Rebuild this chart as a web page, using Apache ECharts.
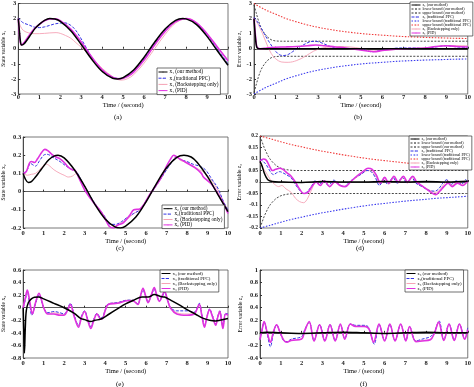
<!DOCTYPE html>
<html><head><meta charset="utf-8">
<script src="https://cdn.jsdelivr.net/npm/echarts@6/dist/echarts.min.js"></script>
<style>html,body{margin:0;padding:0;background:#fff}#c{width:474px;height:387px}</style>
</head><body><div id="c"></div>
<script>
// ---------- Panel (a): state x1 ----------
const a_our=[[0,2],[0.05,1.2],[0.1,0.5],[0.15,0.25],[0.25,0.3],[0.4,0.55],[0.6,0.95],[0.8,1.35],[1,1.62],[1.25,1.88],[1.5,2.0],[1.75,1.97],[2,1.82],[2.5,1.2],[3,0.28],[3.5,-0.7],[4,-1.51],[4.5,-1.96],[4.75,-2.0],[5,-1.92],[5.5,-1.41],[6,-0.56],[6.5,0.43],[7,1.31],[7.5,1.88],[7.85,2.0],[8,1.98],[8.5,1.6],[9,0.82],[9.5,-0.15],[10,-1.09]];
const a_ppc=[[0,2.05],[0.2,1.75],[0.5,1.58],[0.8,1.42],[1,1.4],[1.25,1.45],[1.5,1.55],[1.75,1.65],[2,1.7],[2.2,1.72],[2.5,1.55],[2.75,1.2],[3,0.65],[3.25,0.05],[3.5,-0.55],[4,-1.42],[4.5,-1.88],[4.8,-1.97],[5,-1.95],[5.5,-1.5],[6,-0.65],[6.5,0.35],[7,1.25],[7.5,1.85],[7.9,2.0],[8.5,1.65],[9,0.9],[9.5,-0.05],[10,-1.0]];
const a_bs=[[0,2],[0.1,1.5],[0.25,1.2],[0.5,1.05],[0.75,1.0],[1,1.0],[1.5,1.05],[1.8,1.07],[2,1.02],[2.25,0.88],[2.5,0.7],[2.75,0.4],[3,0.1],[3.5,-0.6],[4,-1.3],[4.5,-1.85],[4.9,-2.08],[5.2,-1.99],[5.5,-1.72],[6,-0.95],[6.5,0.0],[7,0.95],[7.5,1.7],[8,2.0],[8.3,1.92],[8.6,1.58],[9,0.97],[9.5,0.1],[10,-0.75]];
const a_pid=[[0,2],[0.05,1.0],[0.1,0.4],[0.15,0.25],[0.3,0.45],[0.5,0.85],[0.75,1.3],[1,1.62],[1.25,1.86],[1.5,1.98],[1.75,1.98],[2,1.86],[2.5,1.3],[3,0.45],[3.5,-0.55],[4,-1.4],[4.5,-1.9],[4.85,-2.0],[5.2,-1.85],[5.5,-1.55],[6,-0.75],[6.5,0.25],[7,1.15],[7.5,1.8],[8,2.0],[8.5,1.72],[9,1.0],[9.5,0.1],[10,-0.8]];

// ---------- Panel (b): error z1 ----------
const b_our=[[0,2],[0.05,1.0],[0.1,0.3],[0.15,0.05],[0.3,0.0],[1,0.0],[10,0.0]];
const b_upOur=[[0,2.9],[0.1,2.4],[0.2,1.9],[0.3,1.5],[0.4,1.2],[0.5,1.0],[0.6,0.82],[0.7,0.7],[0.8,0.6],[0.9,0.55],[1,0.52],[1.3,0.5],[10,0.5]];
const b_loOur=[[0,-2.9],[0.1,-2.4],[0.2,-1.9],[0.3,-1.5],[0.4,-1.2],[0.5,-1.0],[0.6,-0.82],[0.7,-0.7],[0.8,-0.6],[0.9,-0.55],[1,-0.52],[1.3,-0.5],[10,-0.5]];
const b_ppc=[[0,2.1],[0.2,1.7],[0.4,1.2],[0.6,0.7],[0.8,0.25],[1.0,-0.15],[1.2,-0.4],[1.4,-0.45],[1.6,-0.38],[1.8,-0.2],[2.0,0.0],[2.3,0.25],[2.6,0.45],[2.85,0.5],[3.1,0.42],[3.4,0.25],[3.7,0.08],[4.0,0.0],[4.5,0.02],[5.0,0.0],[5.5,-0.2],[5.8,-0.15],[6.2,-0.05],[6.8,0.05],[7.5,0.05],[8,0.0],[8.5,0.12],[9,0.2],[9.5,0.12],[10,0.1]];
const b_loTrad=[[0,-3],[0.5,-2.6],[1,-2.3],[1.5,-2.0],[2,-1.78],[2.5,-1.58],[3,-1.42],[3.5,-1.29],[4,-1.18],[4.5,-1.09],[5,-1.01],[5.5,-0.95],[6,-0.9],[6.5,-0.85],[7,-0.81],[7.5,-0.78],[8,-0.75],[8.5,-0.73],[9,-0.71],[9.5,-0.69],[10,-0.68]];
const b_upTrad=[[0,3],[0.5,2.6],[1,2.3],[1.5,2.0],[2,1.78],[2.5,1.58],[3,1.42],[3.5,1.29],[4,1.18],[4.5,1.09],[5,1.01],[5.5,0.95],[6,0.9],[6.5,0.85],[7,0.81],[7.5,0.78],[8,0.75],[8.5,0.73],[9,0.71],[9.5,0.69],[10,0.68]];
const b_bs=[[0,2.0],[0.2,1.6],[0.4,1.0],[0.6,0.3],[0.8,-0.3],[1.0,-0.65],[1.3,-0.88],[1.6,-0.9],[2.0,-0.78],[2.4,-0.5],[2.8,-0.15],[3.2,0.05],[3.6,0.12],[4.0,0.15],[4.5,0.12],[5.0,0.02],[5.5,-0.15],[6.0,-0.12],[7.0,0.0],[8.0,0.05],[9.0,0.2],[10,0.2]];
const b_pid=[[0,2],[0.05,1.2],[0.1,0.4],[0.15,0.1],[0.3,0.0],[0.6,0.05],[1,0.1],[1.5,0.12],[2,0.15],[2.5,0.2],[2.9,0.25],[3.3,0.2],[3.8,0.12],[4.3,0.05],[4.8,-0.05],[5.3,-0.15],[5.6,-0.2],[6,-0.12],[6.5,-0.05],[7,0.0],[7.5,0.02],[8,0.05],[8.5,0.15],[9,0.2],[9.5,0.15],[10,0.12]];

// ---------- Panel (c): state x2 ----------
const c_our=[[0,0.1],[0.1,0.07],[0.25,0.05],[0.4,0.055],[0.6,0.08],[0.8,0.11],[1,0.14],[1.25,0.175],[1.5,0.195],[1.7,0.2],[2,0.185],[2.5,0.12],[3,0.03],[3.5,-0.07],[4,-0.15],[4.5,-0.195],[4.75,-0.2],[5,-0.19],[5.5,-0.14],[6,-0.056],[6.5,0.043],[7,0.131],[7.5,0.188],[7.85,0.2],[8.2,0.19],[8.5,0.16],[9,0.082],[9.5,-0.015],[10,-0.11]];
const c_ppc=[[0,0.1],[0.2,0.12],[0.35,0.155],[0.5,0.145],[0.6,0.14],[0.8,0.17],[1.0,0.2],[1.15,0.205],[1.3,0.2],[1.5,0.185],[1.8,0.165],[2.1,0.14],[2.4,0.12],[2.6,0.11],[2.8,0.07],[3,0.03],[3.3,-0.03],[3.6,-0.08],[4,-0.14],[4.25,-0.18],[4.5,-0.18],[4.8,-0.165],[5.1,-0.14],[5.4,-0.12],[5.7,-0.1],[6,-0.05],[6.3,0.0],[6.6,0.05],[7,0.12],[7.3,0.17],[7.45,0.19],[7.7,0.175],[8.0,0.165],[8.3,0.15],[8.6,0.14],[8.9,0.12],[9.2,0.07],[9.5,0.02],[9.8,-0.06],[10,-0.1]];
const c_bs=[[0,0.1],[0.2,0.09],[0.4,0.095],[0.6,0.1],[0.8,0.12],[1.0,0.145],[1.15,0.15],[1.3,0.14],[1.5,0.12],[1.8,0.1],[2.0,0.09],[2.2,0.08],[2.4,0.085],[2.6,0.1],[2.8,0.07],[3,0.03],[3.3,-0.03],[3.6,-0.08],[4,-0.14],[4.3,-0.185],[4.5,-0.19],[4.8,-0.17],[5.1,-0.15],[5.4,-0.12],[5.7,-0.1],[6,-0.05],[6.3,0.0],[6.6,0.05],[7,0.12],[7.3,0.17],[7.45,0.19],[7.7,0.17],[8.0,0.16],[8.3,0.14],[8.6,0.12],[8.9,0.1],[9.2,0.06],[9.5,0.01],[9.8,-0.06],[10,-0.1]];
const c_pid=[[0,0.1],[0.15,0.11],[0.3,0.155],[0.4,0.165],[0.55,0.16],[0.7,0.18],[0.9,0.215],[1.05,0.232],[1.2,0.225],[1.4,0.205],[1.6,0.19],[1.8,0.18],[2.0,0.16],[2.2,0.135],[2.4,0.12],[2.55,0.115],[2.7,0.08],[3,0.01],[3.3,-0.04],[3.5,-0.07],[3.8,-0.11],[4.0,-0.15],[4.2,-0.19],[4.4,-0.2],[4.6,-0.185],[4.9,-0.17],[5.2,-0.13],[5.4,-0.1],[5.7,-0.095],[5.9,-0.07],[6.1,-0.03],[6.4,0.02],[6.7,0.07],[7.0,0.14],[7.2,0.18],[7.35,0.2],[7.5,0.19],[7.8,0.17],[8.1,0.15],[8.4,0.13],[8.7,0.1],[8.8,0.08],[9.0,0.06],[9.2,0.04],[9.5,-0.01],[9.8,-0.07],[10,-0.12]];

// ---------- Panel (d): error z2 ----------
const d_our=[[0,0.09],[0.1,0.07],[0.2,0.04],[0.3,0.02],[0.4,0.008],[0.6,0.002],[1,0],[2,-0.002],[3,0.002],[4,0],[5,0],[6,0.002],[7,0],[8,0.002],[9,0],[10,0.003]];
const d_upOur=[[0,0.2],[0.1,0.175],[0.2,0.15],[0.3,0.13],[0.4,0.112],[0.5,0.098],[0.6,0.087],[0.7,0.078],[0.8,0.07],[0.9,0.065],[1.0,0.06],[1.2,0.055],[1.4,0.052],[1.7,0.05],[10,0.05]];
const d_loOur=[[0,-0.2],[0.1,-0.175],[0.2,-0.15],[0.3,-0.13],[0.4,-0.112],[0.5,-0.098],[0.6,-0.087],[0.7,-0.078],[0.8,-0.07],[0.9,-0.065],[1.0,-0.06],[1.2,-0.055],[1.4,-0.052],[1.7,-0.05],[10,-0.05]];
const d_ppc=[[0,0.1],[0.15,0.09],[0.3,0.075],[0.5,0.045],[0.65,0.032],[0.8,0.04],[0.95,0.045],[1.1,0.04],[1.3,0.03],[1.5,0.018],[1.7,-0.01],[1.9,-0.035],[2.1,-0.05],[2.3,-0.04],[2.5,-0.015],[2.65,0.005],[2.85,-0.01],[3.05,0.005],[3.3,-0.015],[3.55,0.008],[3.8,-0.01],[4.05,-0.02],[4.3,0.0],[4.6,0.02],[4.9,0.035],[5.15,0.05],[5.35,0.045],[5.55,0.02],[5.75,-0.015],[5.95,0.01],[6.15,-0.01],[6.4,0.02],[6.6,-0.005],[6.85,0.02],[7.05,-0.005],[7.3,0.02],[7.5,-0.005],[7.8,-0.02],[8.1,-0.035],[8.4,-0.04],[8.6,-0.03],[8.8,-0.005],[9.0,0.01],[9.2,-0.01],[9.45,0.005],[9.7,-0.01],[9.9,0.01],[10,0.0]];
const d_loTrad=[[0,-0.2],[0.5,-0.188],[1,-0.175],[1.5,-0.163],[2,-0.153],[2.5,-0.143],[3,-0.134],[3.5,-0.126],[4,-0.118],[4.5,-0.111],[5,-0.104],[5.5,-0.098],[6,-0.093],[6.5,-0.088],[7,-0.083],[7.5,-0.079],[8,-0.075],[8.5,-0.071],[9,-0.068],[9.5,-0.065],[10,-0.062]];
const d_upTrad=[[0,0.2],[0.5,0.188],[1,0.175],[1.5,0.163],[2,0.153],[2.5,0.143],[3,0.134],[3.5,0.126],[4,0.118],[4.5,0.111],[5,0.104],[5.5,0.098],[6,0.093],[6.5,0.088],[7,0.083],[7.5,0.079],[8,0.075],[8.5,0.071],[9,0.068],[9.5,0.065],[10,0.062]];
const d_bs=[[0,0.08],[0.15,0.06],[0.3,0.04],[0.5,0.01],[0.7,-0.01],[0.9,-0.02],[1.05,-0.015],[1.25,-0.03],[1.5,-0.045],[1.7,-0.07],[1.9,-0.085],[2.1,-0.09],[2.3,-0.07],[2.5,-0.03],[2.7,0.0],[2.9,-0.015],[3.1,0.005],[3.35,-0.02],[3.6,0.0],[3.85,-0.015],[4.1,-0.02],[4.35,0.0],[4.65,0.02],[4.95,0.04],[5.2,0.05],[5.4,0.045],[5.6,0.02],[5.8,-0.01],[6.0,0.015],[6.2,-0.01],[6.45,0.02],[6.65,-0.005],[6.9,0.02],[7.1,-0.005],[7.35,0.02],[7.55,-0.005],[7.85,-0.02],[8.15,-0.035],[8.45,-0.045],[8.65,-0.035],[8.85,-0.01],[9.05,0.005],[9.25,-0.015],[9.5,0.0],[9.75,-0.01],[10,0.0]];
const d_pid=[[0,0.09],[0.15,0.1],[0.3,0.095],[0.45,0.07],[0.6,0.05],[0.75,0.055],[0.95,0.06],[1.1,0.055],[1.3,0.04],[1.5,0.025],[1.7,0.0],[1.9,-0.03],[2.1,-0.05],[2.3,-0.045],[2.5,-0.02],[2.7,0.0],[2.9,-0.015],[3.1,0.005],[3.35,-0.02],[3.6,0.0],[3.85,-0.015],[4.1,-0.02],[4.35,0.0],[4.65,0.025],[4.95,0.045],[5.2,0.06],[5.4,0.055],[5.6,0.03],[5.8,-0.005],[6.0,0.02],[6.2,-0.005],[6.45,0.025],[6.65,0.0],[6.9,0.025],[7.1,0.0],[7.35,0.025],[7.55,0.0],[7.85,-0.02],[8.15,-0.04],[8.45,-0.055],[8.65,-0.04],[8.85,-0.02],[9.05,-0.005],[9.25,-0.02],[9.5,-0.005],[9.75,-0.015],[10,0.005]];

// ---------- Panel (e): state x3 ----------
const e_our=[[0,0],[0.03,-0.4],[0.06,-0.72],[0.1,-0.35],[0.15,-0.05],[0.25,0.08],[0.4,0.14],[0.55,0.165],[0.75,0.17],[1.0,0.14],[1.5,0.07],[2.0,0.0],[2.5,-0.09],[2.8,-0.17],[3.0,-0.19],[3.3,-0.22],[3.5,-0.2],[3.8,-0.18],[4.2,-0.1],[4.6,-0.02],[5.0,0.06],[5.4,0.12],[5.8,0.17],[6.1,0.17],[6.4,0.21],[6.7,0.18],[6.9,0.17],[7.2,0.12],[7.6,0.05],[8.0,-0.03],[8.4,-0.1],[8.8,-0.17],[9.1,-0.2],[9.4,-0.21],[9.6,-0.2],[10,-0.17]];
const e_ppc=[[0,0],[0.1,0.12],[0.2,0.25],[0.32,0.05],[0.42,-0.12],[0.6,0.06],[0.77,0.2],[0.9,0.1],[1.0,0.0],[1.2,-0.08],[1.5,-0.06],[1.8,-0.08],[2.0,-0.1],[2.15,-0.03],[2.3,0.07],[2.5,-0.13],[2.7,-0.28],[2.85,-0.13],[3.0,-0.05],[3.15,-0.18],[3.3,-0.3],[3.45,-0.18],[3.6,-0.09],[3.75,-0.15],[3.85,-0.16],[4.0,-0.04],[4.15,0.06],[4.6,0.08],[5.1,0.12],[5.35,0.12],[5.6,0.06],[5.72,0.17],[5.85,0.28],[5.97,0.19],[6.1,0.09],[6.25,0.19],[6.4,0.29],[6.52,0.2],[6.65,0.11],[6.78,0.17],[6.9,0.24],[7.05,0.12],[7.2,0.0],[7.5,-0.05],[8.0,-0.05],[8.35,-0.07],[8.6,0.07],[8.72,-0.1],[8.85,-0.29],[8.97,-0.14],[9.1,-0.02],[9.25,-0.13],[9.4,-0.26],[9.5,-0.14],[9.6,-0.05],[9.68,-0.18],[9.75,-0.3],[9.88,-0.09],[10,-0.1]];
const e_bs=[[0,0],[0.1,0.13],[0.2,0.26],[0.32,0.08],[0.45,-0.08],[0.6,0.07],[0.77,0.21],[0.9,0.11],[1.0,0.0],[1.2,-0.09],[1.5,-0.08],[1.8,-0.1],[2.0,-0.11],[2.15,-0.04],[2.3,0.06],[2.5,-0.14],[2.7,-0.29],[2.85,-0.14],[3.0,-0.05],[3.15,-0.19],[3.3,-0.31],[3.45,-0.19],[3.6,-0.09],[3.75,-0.16],[3.85,-0.17],[4.0,-0.04],[4.15,0.06],[4.6,0.08],[5.1,0.12],[5.35,0.12],[5.6,0.06],[5.72,0.18],[5.85,0.3],[5.97,0.2],[6.1,0.09],[6.25,0.2],[6.4,0.31],[6.52,0.2],[6.65,0.11],[6.78,0.18],[6.9,0.25],[7.05,0.12],[7.2,0.0],[7.5,-0.08],[8.0,-0.1],[8.35,-0.09],[8.6,0.06],[8.72,-0.11],[8.85,-0.3],[8.97,-0.14],[9.1,-0.03],[9.25,-0.14],[9.4,-0.27],[9.5,-0.14],[9.6,-0.05],[9.68,-0.19],[9.75,-0.31],[9.88,-0.1],[10,-0.11]];
const e_pid=[[0,0],[0.1,0.15],[0.2,0.28],[0.32,0.1],[0.45,-0.1],[0.6,0.08],[0.77,0.23],[0.9,0.12],[1.0,0.0],[1.2,-0.1],[1.5,-0.1],[1.8,-0.12],[2.0,-0.12],[2.15,-0.05],[2.3,0.05],[2.5,-0.15],[2.7,-0.31],[2.85,-0.15],[3.0,-0.06],[3.15,-0.2],[3.3,-0.33],[3.45,-0.2],[3.6,-0.1],[3.75,-0.17],[3.85,-0.18],[4.0,-0.05],[4.15,0.05],[4.6,0.07],[5.1,0.11],[5.35,0.11],[5.6,0.05],[5.72,0.18],[5.85,0.31],[5.97,0.2],[6.1,0.08],[6.25,0.2],[6.4,0.32],[6.52,0.2],[6.65,0.1],[6.78,0.18],[6.9,0.26],[7.05,0.12],[7.2,-0.01],[7.5,-0.1],[8.0,-0.12],[8.35,-0.1],[8.6,0.05],[8.72,-0.12],[8.85,-0.31],[8.97,-0.15],[9.1,-0.03],[9.25,-0.15],[9.4,-0.28],[9.5,-0.15],[9.6,-0.06],[9.68,-0.2],[9.75,-0.33],[9.88,-0.1],[10,-0.12]];

// ---------- Panel (f): error z3 ----------
const f_our=[[0,0],[0.3,0.01],[1,0],[2,-0.01],[3,0],[4,0.01],[5,0],[6,-0.01],[7,0],[8,0.01],[9,0],[10,0]];
const f_ppc=[[0,-0.11],[0.1,0.05],[0.2,0.17],[0.35,-0.02],[0.5,-0.22],[0.65,0.0],[0.8,0.13],[0.95,0.02],[1.15,-0.13],[1.3,-0.14],[1.5,-0.1],[2.0,-0.06],[2.15,0.05],[2.37,0.17],[2.6,-0.12],[2.87,0.13],[3.12,-0.12],[3.37,0.13],[3.62,-0.12],[3.87,0.13],[4.08,-0.09],[4.35,0.14],[4.6,0.12],[5.0,0.12],[5.2,0.1],[5.3,0.02],[5.5,-0.18],[5.73,0.13],[6.0,-0.12],[6.25,0.13],[6.5,-0.12],[6.77,0.13],[7.02,-0.12],[7.2,0.1],[7.5,-0.13],[7.8,-0.1],[8.2,-0.06],[8.4,0.02],[8.62,0.19],[8.85,-0.11],[9.1,0.14],[9.35,-0.11],[9.6,0.14],[9.85,-0.09],[10,0.08]];
const f_bs=[[0,-0.1],[0.1,0.05],[0.2,0.17],[0.35,0.0],[0.5,-0.14],[0.65,0.02],[0.8,0.13],[0.95,0.02],[1.15,-0.12],[1.3,-0.14],[1.5,-0.12],[2.0,-0.09],[2.15,0.03],[2.37,0.17],[2.6,-0.12],[2.87,0.13],[3.12,-0.12],[3.37,0.13],[3.62,-0.12],[3.87,0.13],[4.08,-0.09],[4.35,0.14],[4.6,0.11],[5.0,0.11],[5.2,0.09],[5.3,0.02],[5.47,-0.14],[5.73,0.14],[6.0,-0.12],[6.25,0.14],[6.5,-0.12],[6.77,0.14],[7.02,-0.12],[7.2,0.1],[7.5,-0.13],[7.8,-0.12],[8.2,-0.1],[8.4,0.0],[8.6,0.16],[8.85,-0.12],[9.1,0.14],[9.35,-0.12],[9.6,0.14],[9.85,-0.1],[10,0.06]];
const f_pid=[[0,-0.11],[0.1,0.05],[0.2,0.18],[0.35,0.0],[0.5,-0.15],[0.65,0.02],[0.8,0.13],[0.95,0.02],[1.15,-0.12],[1.3,-0.15],[1.5,-0.12],[2.0,-0.1],[2.15,0.03],[2.37,0.18],[2.6,-0.13],[2.87,0.13],[3.12,-0.13],[3.37,0.13],[3.62,-0.13],[3.87,0.14],[4.08,-0.1],[4.35,0.14],[4.6,0.1],[5.0,0.1],[5.2,0.08],[5.3,0.02],[5.47,-0.15],[5.73,0.14],[6.0,-0.13],[6.25,0.14],[6.5,-0.13],[6.77,0.14],[7.02,-0.13],[7.2,0.1],[7.5,-0.14],[7.8,-0.13],[8.2,-0.11],[8.4,0.0],[8.6,0.17],[8.85,-0.12],[9.1,0.14],[9.35,-0.12],[9.6,0.14],[9.85,-0.1],[10,0.05]];

// ---------- axis ranges / labels ----------
const yRanges=[[-3,3,1],[-3,3,1],[-0.2,0.3,0.1],[-0.2,0.2,0.05],[-0.8,0.6,0.2],[-0.4,1,0.2]];
const yNames=['State variable x\u2081','Error variable z\u2081','State variable x\u2082','Error variable z\u2082','State variable x\u2083','Error variable z\u2083'];
const panelLabels=['(a)','(b)','(c)','(d)','(e)','(f)'];
const xName='Time / (second)';

const SERIF='"Liberation Serif","DejaVu Serif",serif';
const grids=[
 {left:12,top:2,width:216,height:92},
 {left:254,top:2,width:217,height:92},
 {left:17,top:137,width:211,height:91},
 {left:260,top:136,width:209,height:92},
 {left:21,top:270,width:207,height:88},
 {left:260,top:270,width:211,height:88}
];
const yGaps=[9,10,13,15,16,15];
const xGaps=[4,4,6,6,7,7];
const xMargins=[0,0,2,2,2,2];
const labelPos=[[114,113.5],[354,113.5],[116,244.5],[356,244.5],[116,380.5],[360,380.5]];

const ST={
 our:{color:'#000',width:1.5,type:'solid'},
 ppc:{color:'#3434e6',width:1,type:[3,1.5]},
 bs:{color:'#f5a3b5',width:0.9,type:'solid'},
 pid:{color:'#e032e0',width:1.6,type:'solid'},
 bOur:{color:'#333',width:0.9,type:[2,1.5]},
 bLo:{color:'#3a3aee',width:1.1,type:[1.5,1.5]},
 bUp:{color:'#f03a3a',width:1.1,type:[1.5,1.5]}
};
const series=[];
function add(g,name,data,st,z){
  series.push({type:'line',name:name,xAxisIndex:g,yAxisIndex:g,data:data,showSymbol:false,symbol:'none',smooth:0.35,
    lineStyle:{color:ST[st].color,width:ST[st].width,type:ST[st].type},itemStyle:{color:ST[st].color},z:z||2,animation:false});
}
const ZW='\u200b';
// (a)
add(0,'x\u2081 (our method)',a_our,'our',5);
add(0,'x\u2081(traditional PPC)',a_ppc,'ppc',3);
add(0,'x\u2081 (Backstepping only)',a_bs,'bs',2);
add(0,'x\u2081 (PID)',a_pid,'pid',4);
// (b)
const Lb=['z\u2081 (our method)','lower bound (our method)','upper bound (our method)','z\u2081 (traditional PPC)','lower bound (traditional PPC)','upper bound (traditional PPC)','z\u2081 (Backstepping only)','z\u2081 (PID)'];
add(1,Lb[0],b_our,'our',5);add(1,Lb[1],b_loOur,'bOur',2);add(1,Lb[2],b_upOur,'bOur',2);
add(1,Lb[3],b_ppc,'ppc',3);add(1,Lb[4],b_loTrad,'bLo',2);add(1,Lb[5],b_upTrad,'bUp',2);
add(1,Lb[6],b_bs,'bs',2);add(1,Lb[7],b_pid,'pid',4);
// (c)
add(2,'x\u2082 (our method)',c_our,'our',5);
add(2,'x\u2082(traditional PPC)',c_ppc,'ppc',3);
add(2,'x\u2082 (Backstepping only)',c_bs,'bs',2);
add(2,'x\u2082 (PID)',c_pid,'pid',4);
// (d)
const Ld=['z\u2082 (our method)','lower bound (our method)'+ZW,'upper bound (our method)'+ZW,'z\u2082 (traditional PPC)','lower bound (traditional PPC)'+ZW,'upper bound (traditional PPC)'+ZW,'z\u2082 (Backstepping only)','z\u2082 (PID)'];
add(3,Ld[0],d_our,'our',5);add(3,Ld[1],d_loOur,'bOur',2);add(3,Ld[2],d_upOur,'bOur',2);
add(3,Ld[3],d_ppc,'ppc',3);add(3,Ld[4],d_loTrad,'bLo',2);add(3,Ld[5],d_upTrad,'bUp',2);
add(3,Ld[6],d_bs,'bs',2);add(3,Ld[7],d_pid,'pid',4);
// (e)
add(4,'x\u2083 (our method)',e_our,'our',5);
add(4,'x\u2083 (traditional PPC)',e_ppc,'ppc',3);
add(4,'x\u2083 (Backstepping only)',e_bs,'bs',2);
add(4,'x\u2083 (PID)',e_pid,'pid',4);
// (f)
add(5,'z\u2083 (our method)',f_our,'our',5);
add(5,'z\u2083(traditional PPC)',f_ppc,'ppc',3);
add(5,'z\u2083 (Backstepping only)',f_bs,'bs',2);
add(5,'z\u2083 (PID)',f_pid,'pid',4);

function legend(names,left,top,fs,lh,gap){
  return {data:names,orient:'vertical',left:left,top:top,itemWidth:9,itemHeight:1.2,itemGap:gap,selectedMode:false,
    lineStyle:{width:1},
    textStyle:{fontSize:fs,lineHeight:lh,height:lh,fontFamily:SERIF,color:'#000',padding:[0,0,0,-3]},
    backgroundColor:'#fff',borderColor:'#333',borderWidth:0.7,padding:[1,2,1,1],z:10};
}
const legends=[
  legend(['x\u2081 (our method)','x\u2081(traditional PPC)','x\u2081 (Backstepping only)','x\u2081 (PID)'],157,68,5.3,6,0.2),
  legend(Lb,410,2,4,4,0),
  legend(['x\u2082 (our method)','x\u2082(traditional PPC)','x\u2082 (Backstepping only)','x\u2082 (PID)'],162,205,5.2,5.4,0),
  legend(Ld,409,136,4,3.9,0),
  legend(['x\u2083 (our method)','x\u2083 (traditional PPC)','x\u2083 (Backstepping only)','x\u2083 (PID)'],160,270,4.8,4.5,0),
  legend(['z\u2083 (our method)','z\u2083(traditional PPC)','z\u2083 (Backstepping only)','z\u2083 (PID)'],405,270,4.8,4.6,0)
];

const xAxes=grids.map((g,i)=>({type:'value',gridIndex:i,min:0,max:10,interval:1,
  name:xName,nameLocation:'middle',nameGap:xGaps[i],nameTextStyle:{fontSize:6.5,fontFamily:SERIF,color:'#000'},
  axisLine:{show:true,lineStyle:{color:'#333',width:0.8}},axisTick:{inside:true,length:2,lineStyle:{color:'#333'}},
  axisLabel:{fontSize:6.5,fontWeight:'bold',fontFamily:SERIF,color:'#222',margin:xMargins[i]},splitLine:{show:false}}));
const yAxes=grids.map((g,i)=>({type:'value',gridIndex:i,min:yRanges[i][0],max:yRanges[i][1],interval:yRanges[i][2],
  name:yNames[i],nameLocation:'middle',nameGap:yGaps[i],nameRotate:90,nameTextStyle:{fontSize:5.5,fontFamily:SERIF,color:'#000'},
  axisLine:{show:true,lineStyle:{color:'#333',width:0.8}},axisTick:{inside:true,length:2,lineStyle:{color:'#333'}},
  axisLabel:{fontSize:i===3?5.5:6.5,fontWeight:'bold',fontFamily:SERIF,color:'#222',margin:2,
    formatter:v=>String(Math.round(v*1000)/1000)},splitLine:{show:false}}));

const option={
  backgroundColor:'#fff',animation:false,
  grid:grids.map(g=>Object.assign({show:true,borderColor:'#555',borderWidth:0.8,backgroundColor:'#fff'},g)),
  xAxis:xAxes,yAxis:yAxes,legend:legends,series:series,
  graphic:panelLabels.map((t,i)=>({type:'text',left:labelPos[i][0],top:labelPos[i][1],
    style:{text:t,font:'7px '+SERIF,fill:'#000'}}))
};
const chart=echarts.init(document.getElementById('c'),null,{renderer:'canvas'});
chart.setOption(option);
</script></body></html>
